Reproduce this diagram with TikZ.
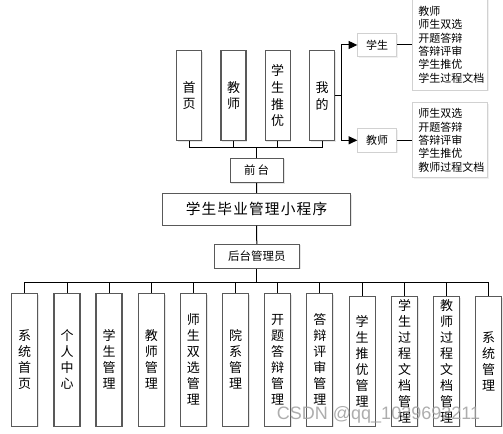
\documentclass[tikz,border=0pt]{standalone}
\usepackage{fontspec}
\setmainfont{Noto Sans CJK SC}
\newfontfamily\wmfont{Liberation Sans}
\usetikzlibrary{arrows.meta,shadows}
\begin{document}
\begin{tikzpicture}[x=0.75pt,y=-0.75pt,
  box/.style={draw=black!65, line width=0.8pt, fill=white, inner sep=0pt, align=center,
    drop shadow={shadow xshift=0.9pt, shadow yshift=-0.9pt, opacity=0.2}},
  tbox/.style={box, minimum width=18.75pt, minimum height=67.5pt, font=\fontsize{9.75}{12.5}\selectfont},
  bbox/.style={box, minimum width=19.5pt, font=\fontsize{9.75}{12}\selectfont},
  tall/.style={minimum height=99.5pt},
  short/.style={minimum height=97pt},
  hbox/.style={box, font=\fontsize{8.6}{10}\selectfont},
  lbox/.style={draw=black!18, line width=0.6pt, fill=white, inner sep=0pt, align=center,
    drop shadow={shadow xshift=0.9pt, shadow yshift=-0.9pt, opacity=0.12},
    minimum width=29.25pt, minimum height=17.5pt, font=\fontsize{8.25}{10}\selectfont},
  listbox/.style={draw=black!18, line width=0.6pt, fill=white, inner ysep=0pt, inner xsep=4.5pt,
    drop shadow={shadow xshift=0.9pt, shadow yshift=-0.9pt, opacity=0.12},
    text width=47.25pt, align=left, font=\fontsize{8.25}{10}\selectfont},
  conn/.style={draw=black, line width=0.75pt},
  arr/.style={conn, -{Triangle[length=6.5pt,width=6pt]}}
]
\useasboundingbox (0,0) rectangle (503,434);

% top row
\node[tbox] (shouye) at (189.2,95.7) {首\\页};
\node[tbox] (jiaoshi) at (233.5,95.7) {教\\师};
\node[tbox] (tuiyou) at (277.7,95.7) {学\\生\\推\\优};
\node[tbox] (wode) at (322,95.7) {我\\的};

\node[hbox, minimum width=40pt, minimum height=18.3pt] (qiantai) at (256.7,170.5) {前\kern1.5pt 台};
\node[box, minimum width=141.3pt, minimum height=23.8pt, font=\fontsize{11}{13}\selectfont\addfontfeature{LetterSpace=8}] (main) at (256.5,209.2) {学生毕业管理小程序};
\node[hbox, minimum width=63.75pt, minimum height=18pt] (houtai) at (256.8,256.3) {后台管理员};

% right side
\node[lbox] (xs) at (377.2,45) {学生};
\node[lbox] (js) at (377.2,140.3) {教师};
\node[listbox, minimum height=68.25pt] (l1) at (449.8,44.5) {教师\\师生双选\\开题答辩\\答辩评审\\学生推优\\学生过程文档};
\node[listbox, minimum height=56.25pt] (l2) at (449.8,140.2) {师生双选\\开题答辩\\答辩评审\\学生推优\\教师过程文档};

% bottom row
\node[bbox, tall] (b1) at (24.7,359.7) {系\\统\\首\\页};
\node[bbox, tall] (b2) at (67,359.7) {个\\人\\中\\心};
\node[bbox, tall] (b3) at (109,359.7) {学\\生\\管\\理};
\node[bbox, tall] (b4) at (151.3,359.7) {教\\师\\管\\理};
\node[bbox, tall] (b5) at (193.3,359.7) {师\\生\\双\\选\\管\\理};
\node[bbox, tall] (b6) at (235.7,359.7) {院\\系\\管\\理};
\node[bbox, tall] (b7) at (277.5,359.7) {开\\题\\答\\辩\\管\\理};
\node[bbox, tall] (b8) at (319.8,359.7) {答\\辩\\评\\审\\管\\理};
\node[bbox, short] (b9) at (362.2,361.4) {学\\生\\推\\优\\管\\理};
\node[bbox, short] (b10) at (404.5,361.4) {学\\生\\过\\程\\文\\档\\管\\理};
\node[bbox, short] (b11) at (446.5,361.4) {教\\师\\过\\程\\文\\档\\管\\理};
\node[bbox, short] (b12) at (488.7,361.4) {系\\统\\管\\理};

% connectors top
\coordinate (tbus) at (256.7,147.7);
\draw[conn] (shouye.south) -- (shouye.south |- tbus) -- (wode.south |- tbus) -- (wode.south);
\draw[conn] (jiaoshi.south) -- (jiaoshi.south |- tbus);
\draw[conn] (tuiyou.south) -- (tuiyou.south |- tbus);
\draw[conn] (qiantai.north) -- (qiantai.north |- tbus);
\draw[conn] (qiantai.south) -- (main.north);
\draw[conn] (main.south) -- (houtai.north);

% right connectors
\coordinate (fork) at (341.7,95.7);
\draw[conn] (wode.east |- fork) -- (fork);
\draw[arr] (fork) |- (xs.west);
\draw[arr] (fork) |- (js.west);
\draw[conn] (xs.east) -- (xs.east -| l1.west);
\draw[conn] (js.east) -- (js.east -| l2.west);

% bottom connectors
\coordinate (bbus) at (256.7,282.3);
\draw[conn] (houtai.south) -- (houtai.south |- bbus);
\draw[conn] (b1.north) -- (b1.north |- bbus) -- (b12.north |- bbus) -- (b12.north);
\foreach \n in {b2,b3,b4,b5,b6,b7,b8,b9,b10,b11}
  \draw[conn] (\n.north) -- (\n.north |- bbus);

% watermark
\node[font=\wmfont\fontsize{13.5}{14}\selectfont, text=gray!75, opacity=0.85, anchor=west, inner sep=0pt] (wm) at (276.7,415) {CSDN @qq\_1039692211};
\end{tikzpicture}
\end{document}
